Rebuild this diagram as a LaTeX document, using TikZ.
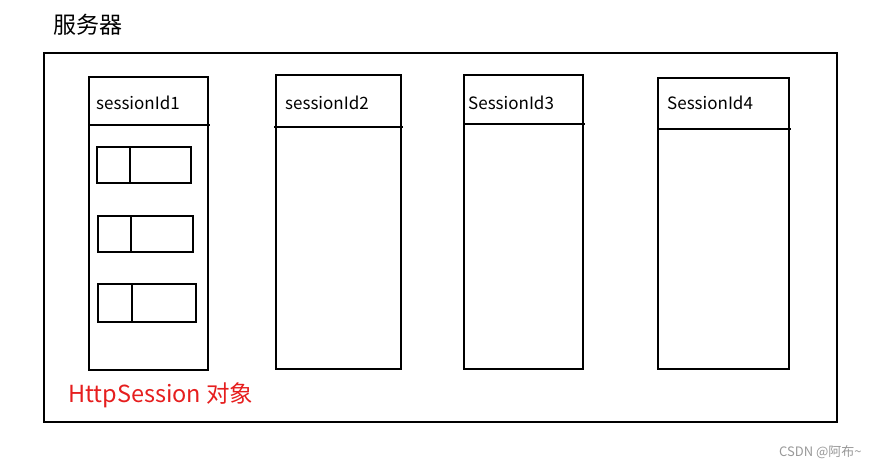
\documentclass[tikz,border=0pt]{standalone}
\usepackage{fontspec}
\setmainfont{Noto Sans CJK SC}
\begin{document}
\begin{tikzpicture}[x=1pt,y=-1pt,
  box/.style={draw=black,line width=2.2pt},
  lbl/.style={font=\fontsize{17}{20}\selectfont,anchor=west,inner sep=0pt}]
\useasboundingbox[fill=white] (0,0) rectangle (889,469);
\node[lbl,font=\fontsize{23}{27}\selectfont] (title) at (53,25) {服务器};
\draw[box] (44,53) rectangle (837,422);
% columns
\draw[box] (89,77) rectangle (208,370); \draw[box] (89,125) -- (210,125);
\draw[box] (276,75) rectangle (401,369); \draw[box] (274,127) -- (403,127);
\draw[box] (464,75) rectangle (583,369); \draw[box] (464,124) -- (585,124);
\draw[box] (658,78) rectangle (789,369); \draw[box] (658,129) -- (791,129);
\node[lbl] (s1) at (96,103) {sessionId1};
\node[lbl] (s2) at (285,103) {sessionId2};
\node[lbl] (s3) at (468,103) {SessionId3};
\node[lbl] (s4) at (667,103) {SessionId4};
% small boxes
\draw[box] (97,147) rectangle (191,183); \draw[box] (130,147) -- (130,183);
\draw[box] (98,216) rectangle (193,252); \draw[box] (131,216) -- (131,252);
\draw[box] (98,284) rectangle (196,322); \draw[box] (132,284) -- (132,322);
\node[lbl,font=\fontsize{23.5}{27}\selectfont,text={rgb,255:red,230;green,30;blue,30}] (hs) at (68,395) {HttpSession 对象};
\node[lbl,font=\fontsize{13}{15}\selectfont,text=gray!80] (wm) at (779,452) {CSDN @阿布\textasciitilde};
\end{tikzpicture}
\end{document}
